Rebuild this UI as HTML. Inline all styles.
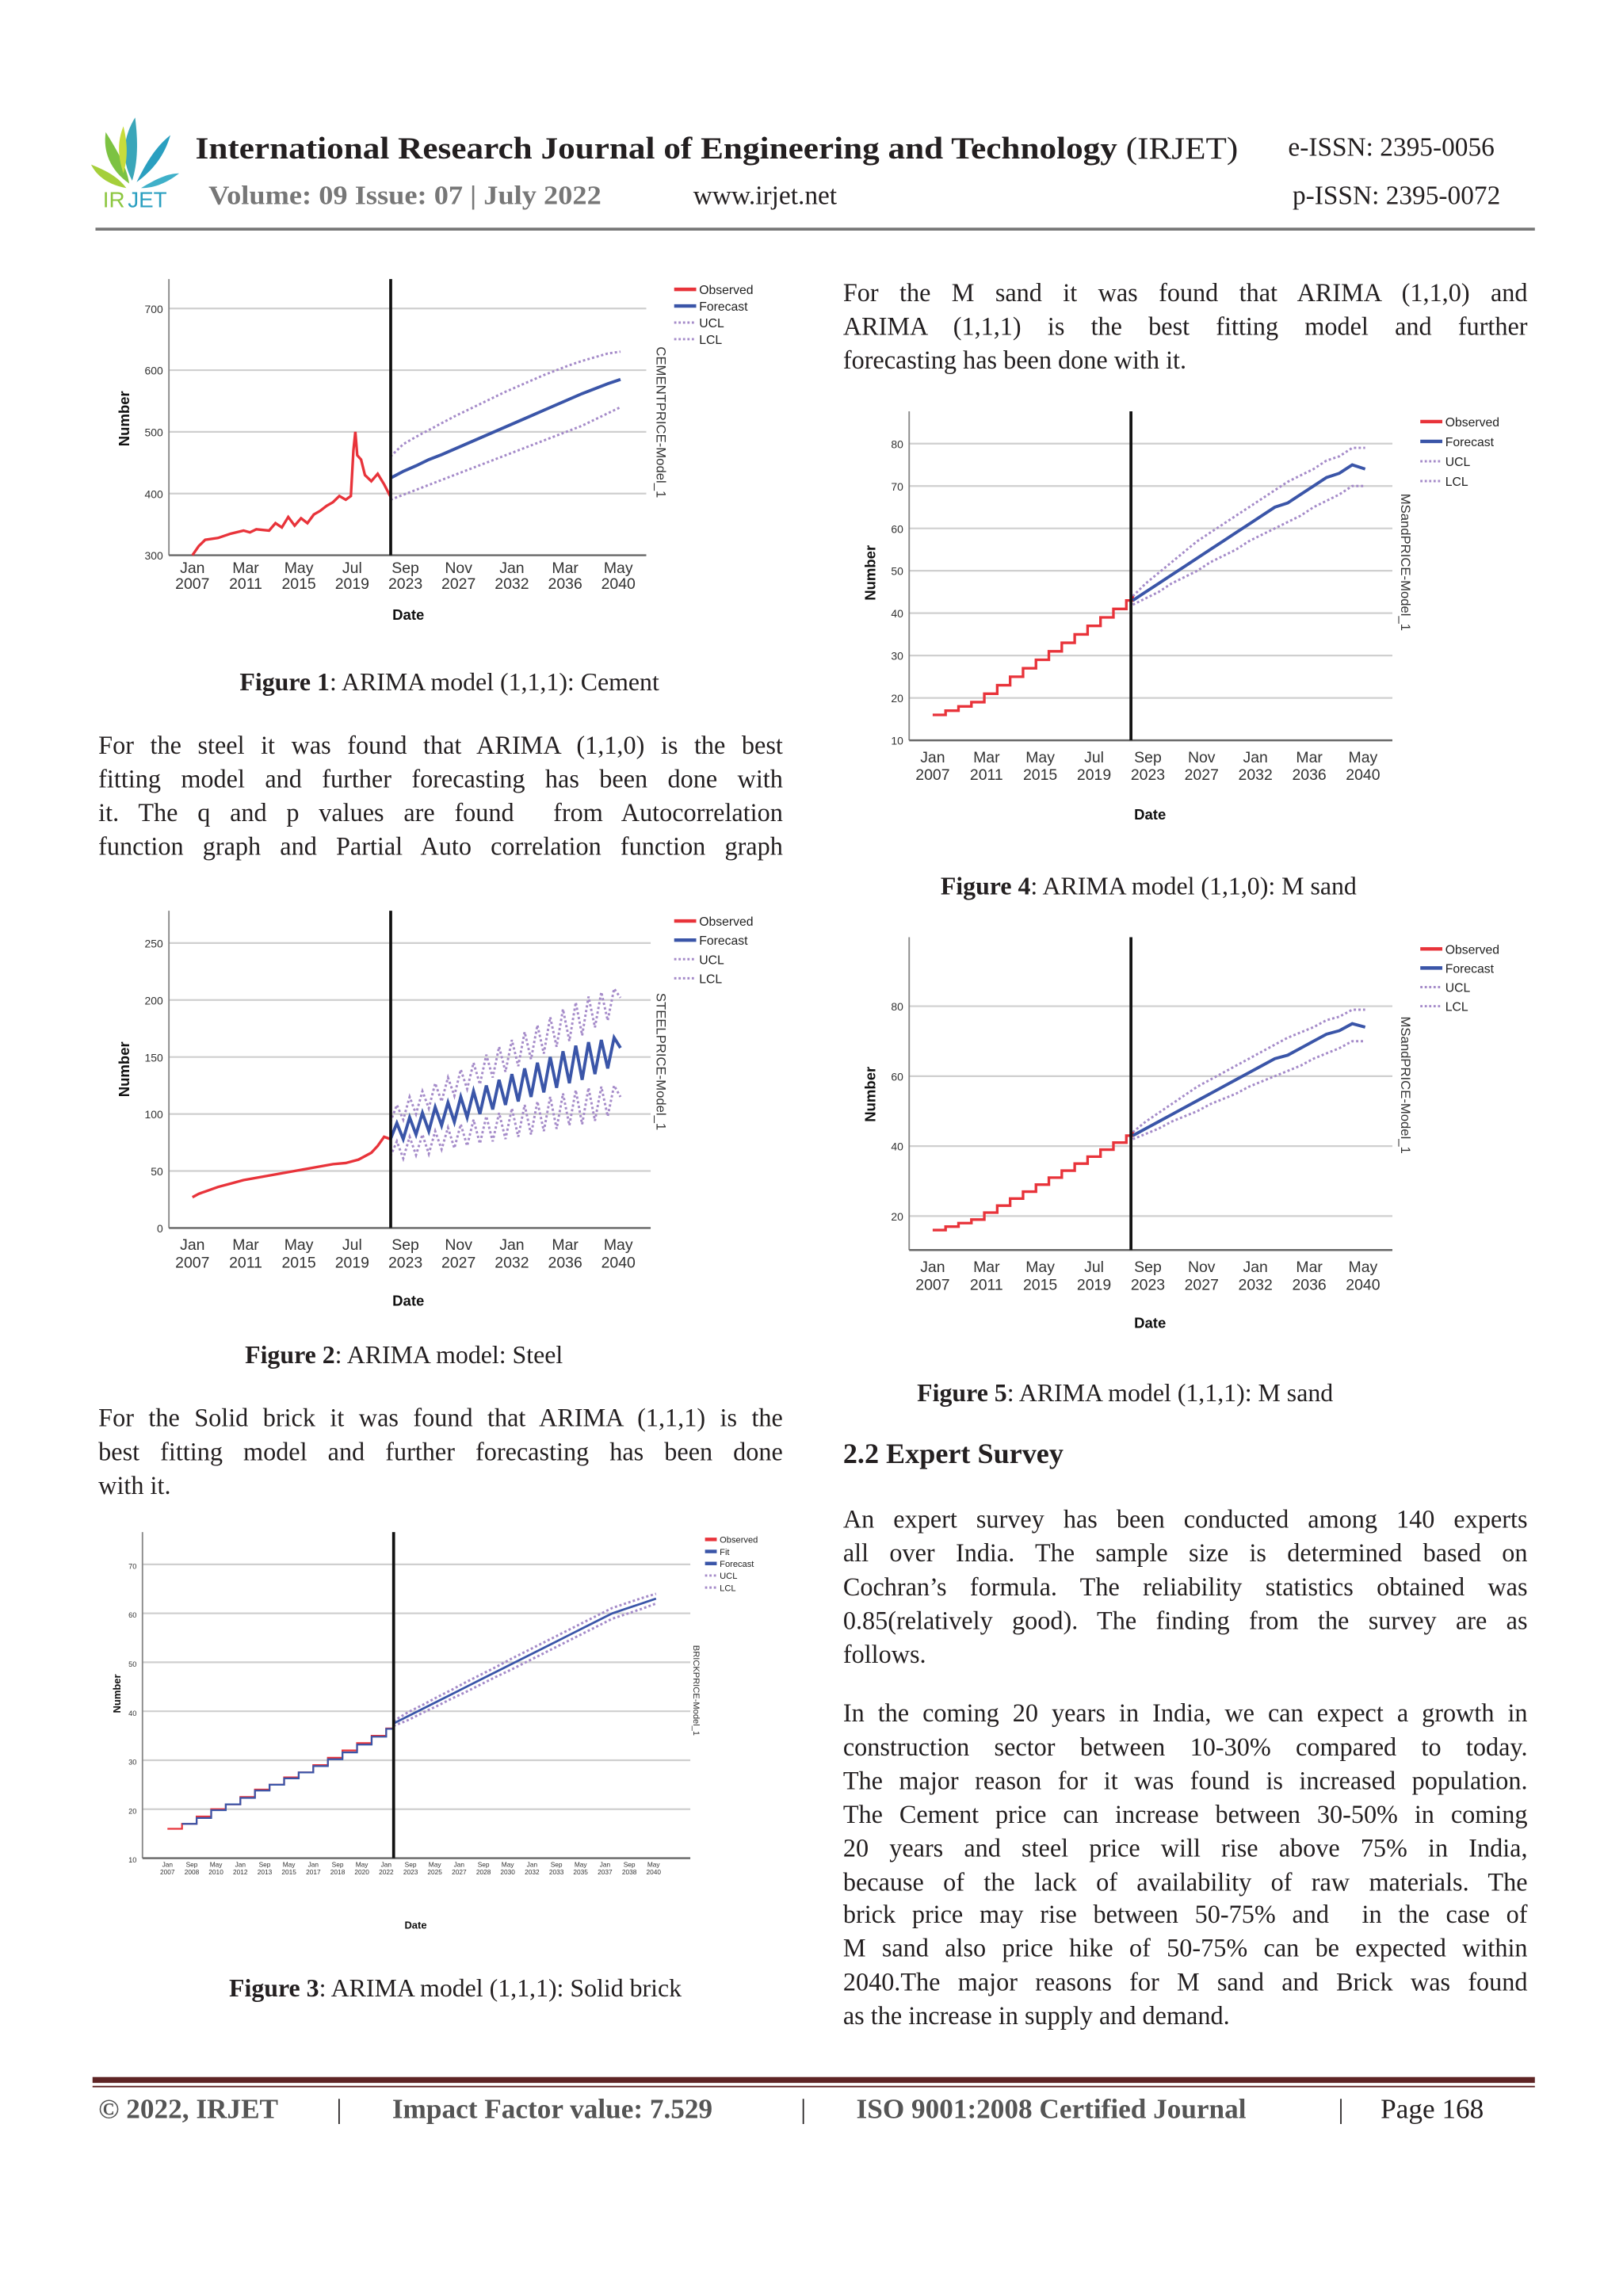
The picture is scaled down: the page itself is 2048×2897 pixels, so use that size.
<!DOCTYPE html>
<html><head><meta charset="utf-8">
<style>
html,body{margin:0;padding:0;background:#fff;}
body{width:2048px;height:2897px;overflow:hidden;position:relative;}
#page{position:absolute;left:0;top:0;width:1105px;height:1563px;transform:scale(1.85339);transform-origin:0 0;font-family:"Liberation Serif",serif;color:#231f20;}
.abs{position:absolute;white-space:nowrap;}
.para{position:absolute;font-size:17.4px;line-height:22.9px;}
.para div{text-align:justify;text-align-last:justify;white-space:nowrap;}
.para div.last{text-align-last:left;}
.cap{position:absolute;font-size:17.2px;white-space:nowrap;transform:translateX(-50%);}
.foot{position:absolute;top:1426px;font-size:19px;font-weight:bold;color:#555;white-space:nowrap;}
svg text{font-family:"Liberation Sans Narrow","Liberation Sans",sans-serif;}
</style></head>
<body>
<div id="page">
  <svg class="abs" style="left:60px;top:78px" width="66" height="70">
    <path d="M30 45 C22 30 24 15 32 2 C34 18 34 32 30 45Z" fill="#3aa6b9"/>
    <path d="M28 47 C15 38 10 25 12 12 C20 25 26 35 28 47Z" fill="#7cc242"/>
    <path d="M33 46 C40 32 46 22 56 14 C52 28 44 38 33 46Z" fill="#2a9fc0"/>
    <path d="M26 50 C14 48 6 42 2 34 C12 38 20 42 26 50Z" fill="#a5cf3a"/>
    <path d="M36 50 C46 44 54 40 62 40 C54 46 46 50 36 50Z" fill="#3fb0c9"/>
    <path d="M24 40 C20 28 20 18 24 8 C27 20 27 30 24 40Z" fill="#c8dc3c"/>
    <text x="10" y="63" font-family="Liberation Serif" font-size="15" fill="#8cc63f">IR</text>
    <text x="27" y="63" font-family="Liberation Serif" font-size="15" fill="#2a9fc0">JET</text>
  </svg>
  <div class="abs" style="left:133px;top:89px;font-size:21px;transform:scaleX(1.11);transform-origin:0 0;"><b>International Research Journal of Engineering and Technology</b> (IRJET)</div>
  <div class="abs" style="left:877px;top:90px;font-size:18px;">e-ISSN: 2395-0056</div>
  <div class="abs" style="left:142px;top:123px;font-size:18px;font-weight:bold;color:#777;transform:scaleX(1.09);transform-origin:0 0;">Volume: 09 Issue: 07 | July 2022</div>
  <div class="abs" style="left:472px;top:123px;font-size:18px;">www.irjet.net</div>
  <div class="abs" style="left:880px;top:123px;font-size:18px;">p-ISSN: 2395-0072</div>
  <div class="abs" style="left:65px;top:155px;width:980px;height:2px;background:#777;"></div>

  <svg id="charts" class="abs" style="left:0;top:0" width="1105" height="1563"></svg>

  <div class="cap" style="left:306px;top:455px"><b>Figure 1</b>: ARIMA model (1,1,1): Cement</div>
  <div class="para" style="left:67px;top:496px;width:466px">
    <div>For the steel it was found that ARIMA (1,1,0) is the best</div>
    <div>fitting model and further forecasting has been done with</div>
    <div>it. The q and p values are found &nbsp;from Autocorrelation</div>
    <div>function graph and Partial Auto correlation function graph</div>
  </div>
  <div class="cap" style="left:275px;top:913px"><b>Figure 2</b>: ARIMA model: Steel</div>
  <div class="para" style="left:67px;top:954px;width:466px">
    <div>For the Solid brick it was found that ARIMA (1,1,1) is the</div>
    <div>best fitting model and further forecasting has been done</div>
    <div class="last">with it.</div>
  </div>
  <div class="cap" style="left:310px;top:1344px"><b>Figure 3</b>: ARIMA model (1,1,1): Solid brick</div>

  <div class="para" style="left:574px;top:188px;width:466px">
    <div>For the M sand it was found that ARIMA (1,1,0) and</div>
    <div>ARIMA (1,1,1) is the best fitting model and further</div>
    <div class="last">forecasting has been done with it.</div>
  </div>
  <div class="cap" style="left:782px;top:594px"><b>Figure 4</b>: ARIMA model (1,1,0): M sand</div>
  <div class="cap" style="left:766px;top:939px"><b>Figure 5</b>: ARIMA model (1,1,1): M sand</div>
  <div class="abs" style="left:574px;top:980px;font-size:19.5px;font-weight:bold;">2.2 Expert Survey</div>
  <div class="para" style="left:574px;top:1023px;width:466px">
    <div>An expert survey has been conducted among 140 experts</div>
    <div>all over India. The sample size is determined based on</div>
    <div>Cochran’s formula. The reliability statistics obtained was</div>
    <div>0.85(relatively good). The finding from the survey are as</div>
    <div class="last">follows.</div>
  </div>
  <div class="para" style="left:574px;top:1155px;width:466px">
    <div>In the coming 20 years in India, we can expect a growth in</div>
    <div>construction sector between 10-30% compared to today.</div>
    <div>The major reason for it was found is increased population.</div>
    <div>The Cement price can increase between 30-50% in coming</div>
    <div>20 years and steel price will rise above 75% in India,</div>
    <div>because of the lack of availability of raw materials. The</div>
    <div>brick price may rise between 50-75% and &nbsp;in the case of</div>
    <div>M sand also price hike of 50-75% can be expected within</div>
    <div>2040.The major reasons for M sand and Brick was found</div>
    <div class="last">as the increase in supply and demand.</div>
  </div>

  <div class="abs" style="left:63px;top:1414px;width:982px;height:4px;background:#5e2424;"></div>
  <div class="abs" style="left:63px;top:1420px;width:982px;height:1.3px;background:#5e2424;"></div>
  <div class="foot" style="left:67px">© 2022, IRJET</div>
  <div class="foot" style="left:229px;color:#231f20;font-weight:normal">|</div>
  <div class="foot" style="left:267px">Impact Factor value: 7.529</div>
  <div class="foot" style="left:545px;color:#231f20;font-weight:normal">|</div>
  <div class="foot" style="left:583px">ISO 9001:2008 Certified Journal</div>
  <div class="foot" style="left:911px;color:#231f20;font-weight:normal">|</div>
  <div class="foot" style="left:940px;color:#231f20;font-weight:normal">Page 168</div>
</div>

<script>
// ---------- data ----------
const mainTickMonths = ["Jan","Mar","May","Jul","Sep","Nov","Jan","Mar","May"];
const mainTickYears = [2007,2011,2015,2019,2023,2027,2032,2036,2040];
const mainTickDates = [2007,2011.17,2015.33,2019.5,2023.67,2027.83,2032,2036.17,2040.33];
const brickTickMonths = ["Jan","Sep","May","Jan","Sep","May","Jan","Sep","May","Jan","Sep","May","Jan","Sep","May","Jan","Sep","May","Jan","Sep","May"];
const brickTickYears = [2007,2008,2010,2012,2013,2015,2017,2018,2020,2022,2023,2025,2027,2028,2030,2032,2033,2035,2037,2038,2040];
const brickTickDates = [2007,2008.67,2010.33,2012,2013.67,2015.33,2017,2018.67,2020.33,2022,2023.67,2025.33,2027,2028.67,2030.33,2032,2033.67,2035.33,2037,2038.67,2040.33];

// Cement
const cementYTicks = [300,400,500,600,700];
const cementObsX = [2007,2007.5,2008,2009,2010,2011,2011.5,2012,2013,2013.5,2014,2014.5,2015,2015.5,2016,2016.5,2017,2017.5,2018,2018.5,2019,2019.4,2019.6,2019.75,2019.9,2020.2,2020.5,2021,2021.5,2022,2022.5];
const cementObsY = [300,315,325,328,335,340,337,342,340,352,345,362,348,360,352,366,372,380,386,396,390,396,470,500,462,455,430,420,432,415,395];
const fcYears = [2022.5,2023.5,2024.5,2025.5,2026.5,2027.5,2028.5,2029.5,2030.5,2031.5,2032.5,2033.5,2034.5,2035.5,2036.5,2037.5,2038.5,2039.5,2040.5];
const cementFc = [425,436,445,455,463,472,481,490,499,508,517,526,535,544,553,562,570,578,585];
const cementUcl = [460,480,492,503,514,525,535,545,555,565,574,583,592,600,608,615,621,627,630];
const cementLcl = [390,398,406,414,422,430,438,446,454,462,470,478,486,494,502,510,520,530,540];

// Steel
const steelYTicks = [0,50,100,150,200,250];
const steelObsX = [2007,2007.5,2008,2009,2010,2011,2012,2013,2014,2015,2016,2017,2018,2019,2020,2021,2021.5,2022,2022.5];
const steelObsY = [27,30,32,36,39,42,44,46,48,50,52,54,56,57,60,66,72,80,78];
const steelFcStart = 2022.5;
const steelFcStep = 0.5;
const steelFc = [78,92,78,97,82,101,85,106,90,110,93,115,97,120,100,125,104,130,108,135,111,140,115,145,119,150,123,155,127,160,130,163,135,165,140,167,158];
const steelUcl = [93,108,95,115,100,120,105,127,111,132,116,139,122,145,126,152,132,159,137,165,142,172,148,178,153,185,159,192,164,198,169,203,176,207,182,210,202];
const steelLcl = [63,76,61,80,64,82,65,85,69,88,70,91,72,95,74,98,76,101,78,105,80,108,82,111,85,115,87,118,90,121,91,123,94,124,98,125,115];

// Brick
const brickYTicks = [10,20,30,40,50,60,70];
const brickObsX = [2007,2008,2009,2010,2011,2012,2013,2014,2015,2016,2017,2018,2019,2020,2021,2022,2022.5];
const brickObsY = [16,17,18.5,20,21,22.5,24,25,26.5,27.5,29,30.5,32,33.5,35,36.5,36.5];
const brickFitX = [2008,2009,2010,2011,2012,2013,2014,2015,2016,2017,2018,2019,2020,2021,2022,2022.5];
const brickFitY = [17,18.2,19.8,21,22.3,23.8,25,26.3,27.5,28.8,30.2,31.6,33.2,34.8,36.4,37.3];
const brickFc = [37.5,39,40.5,42,43.5,45,46.5,48,49.5,51,52.5,54,55.5,57,58.5,60,61,62,63];
const brickUcl = [38,39.8,41.3,42.9,44.4,46,47.5,49,50.6,52.1,53.6,55.1,56.6,58.1,59.6,61.1,62.1,63.1,64];
const brickLcl = [37,38.2,39.7,41.1,42.6,44,45.5,47,48.4,49.9,51.4,52.9,54.4,55.9,57.4,58.9,59.9,60.9,62];

// M sand (figures 4 and 5)
const msand4YTicks = [10,20,30,40,50,60,70,80];
const msand5YTicks = [20,40,60,80];
const msandObsX = [2007,2008,2009,2010,2011,2012,2013,2014,2015,2016,2017,2018,2019,2020,2021,2022,2022.5];
const msandObsY = [16,17,18,19,21,23,25,27,29,31,33,35,37,39,41,43,44];
const msandFc = [43,45,47,49,51,53,55,57,59,61,63,65,66,68,70,72,73,75,74];
const msandUcl = [44,47,49.5,52,54.5,57,59,61,63,65,67,69,71,72.5,74,76,77,79,79];
const msandLcl = [42,43.5,45,47,48.5,50,52,53.5,55,57,58.5,60,61.5,63,65,66.5,68,70,70];

// ---------- drawing ----------
const NS = "http://www.w3.org/2000/svg";
const root = document.getElementById("charts");
function mk(tag, attrs, parent){
  const e = document.createElementNS(NS, tag);
  for (const k in attrs) e.setAttribute(k, attrs[k]);
  (parent||root).appendChild(e);
  return e;
}
function pathFrom(xs, ys, sx, sy, step){
  let d = "";
  for (let i=0;i<xs.length;i++){
    const X = sx(xs[i]), Y = sy(ys[i]);
    if (i===0) d += "M"+X+" "+Y;
    else if (step) d += " H"+X+" V"+Y;
    else d += " L"+X+" "+Y;
  }
  return d;
}
function drawChart(c){
  const g = mk("g", {});
  
  
  const sx = t => c.x0 + (t-2007)*(c.x1-c.x0)/(2040.333-2007);
  const sy = v => c.yb - (v-c.vmin)*(c.yb-c.yt)/(c.vmax-c.vmin);
  c.yTicks.forEach(v=>{
    if (v !== c.vmin){
      const l = mk("line",{x1:c.axisX,x2:c.right,y1:sy(v),y2:sy(v),stroke:"#cfcfcf","stroke-width":1.2},g);
      
      
    }
    const t = mk("text",{x:c.axisX-4,y:sy(v)+3,"font-size":c.tickFs,"text-anchor":"end",fill:"#333"},g);
    t.textContent = v;
    
    
  });
  const ya = mk("line",{x1:c.axisX,x2:c.axisX,y1:c.top,y2:c.yb,stroke:"#888","stroke-width":1},g);
  
  
  const xa = mk("line",{x1:c.axisX,x2:c.right,y1:c.yb,y2:c.yb,stroke:"#666","stroke-width":1.3},g);
  
  
  c.xDates.forEach((d,i)=>{
    const t1 = mk("text",{x:sx(d),y:c.yb+c.xl1,"font-size":c.xFs,"text-anchor":"middle",fill:"#333"},g);
    t1.textContent = c.xMonths[i];
    
    
    const t2 = mk("text",{x:sx(d),y:c.yb+c.xl2,"font-size":c.xFs,"text-anchor":"middle",fill:"#333"},g);
    t2.textContent = c.xYears[i];
    
    
  });
  const fcX = c.fcX;
  const u = mk("path",{d:pathFrom(fcX,c.ucl,sx,sy,false),fill:"none",stroke:"#a58bc9","stroke-width":1.6,"stroke-dasharray":"1.6 1.6"},g);
  
  
  const l = mk("path",{d:pathFrom(fcX,c.lcl,sx,sy,false),fill:"none",stroke:"#a58bc9","stroke-width":1.6,"stroke-dasharray":"1.6 1.6"},g);
  
  
  const o = mk("path",{d:pathFrom(c.obsX,c.obsY,sx,sy,c.step),fill:"none",stroke:"#e8333a","stroke-width":c.lw},g);
  
  
  if (c.fitX){
    const f = mk("path",{d:pathFrom(c.fitX,c.fitY,sx,sy,true),fill:"none",stroke:"#3a55a8","stroke-width":c.lw},g);
    
    
  }
  const fc = mk("path",{d:pathFrom(fcX,c.fc,sx,sy,false),fill:"none",stroke:"#3a55a8","stroke-width":c.lw+0.3},g);
  
  
  const v = mk("line",{x1:c.cutX,x2:c.cutX,y1:c.top,y2:c.yb,stroke:"#111","stroke-width":2},g);
  
  
  const yt = mk("text",{x:0,y:0,"font-size":c.titleFs,"font-weight":"bold","text-anchor":"middle",fill:"#111",transform:"translate("+c.numX+","+c.numY+") rotate(-90)","font-family":"Liberation Sans"},g);
  yt.textContent = "Number";
  
  
  const xt = mk("text",{x:c.dateX,y:c.dateY,"font-size":c.titleFs,"font-weight":"bold","text-anchor":"middle",fill:"#111"},g);
  xt.textContent = "Date";
  
  
  const mt = mk("text",{x:0,y:0,"font-size":c.modelFs,fill:"#333","font-family":"Liberation Sans",transform:"translate("+c.modelX+","+c.modelY+") rotate(90)"},g);
  mt.textContent = c.model;
  
  
  c.legend.forEach((it,i)=>{
    const yy = c.legY + i*c.legDy;
    const ln = mk("line",{x1:c.legX,x2:c.legX+c.legW,y1:yy,y2:yy,stroke:it[1],"stroke-width":it[2]?1.6:2.4,"stroke-dasharray":it[2]?"1.5 1.5":"none"},g);
    
    
    const tx = mk("text",{x:c.legX+c.legW+2,y:yy+c.legFs*0.38,"font-size":c.legFs,fill:"#222"},g);
    tx.textContent = it[0];
    
    
  });
}
const std = [["Observed","#e8333a",false],["Forecast","#3a55a8",false],["UCL","#a58bc9",true],["LCL","#a58bc9",true]];
const steelFcX = steelFc.map((_,i)=>steelFcStart+i*steelFcStep);

drawChart({name:"cement-chart",x0:131,x1:421,axisX:115,right:440,top:190,yb:378,vmin:300,vmax:700,yt:210,
  yTicks:cementYTicks,tickFs:7.5,xDates:mainTickDates,xMonths:mainTickMonths,xYears:mainTickYears,xFs:10.5,xl1:12,xl2:23,
  obsX:cementObsX,obsY:cementObsY,step:false,fcX:fcYears,fc:cementFc,ucl:cementUcl,lcl:cementLcl,lw:1.8,cutX:266,
  numX:88,numY:285,dateX:278,dateY:422,titleFs:10,modelX:447,modelY:236,modelFs:9,model:"CEMENTPRICE-Model_1",
  legend:std,legX:459,legY:197,legDy:11.3,legW:15,legFs:8.5});
drawChart({name:"steel-chart",x0:131,x1:421,axisX:115,right:443,top:620,yb:836,vmin:0,vmax:250,yt:642,
  yTicks:steelYTicks,tickFs:7.5,xDates:mainTickDates,xMonths:mainTickMonths,xYears:mainTickYears,xFs:10.5,xl1:15,xl2:27,
  obsX:steelObsX,obsY:steelObsY,step:false,fcX:steelFcX,fc:steelFc,ucl:steelUcl,lcl:steelLcl,lw:1.8,cutX:266,
  numX:88,numY:728,dateX:278,dateY:889,titleFs:10,modelX:447,modelY:676,modelFs:9,model:"STEELPRICE-Model_1",
  legend:std,legX:459,legY:627,legDy:13,legW:15,legFs:8.5});
drawChart({name:"brick-chart",x0:114,x1:445,axisX:97,right:470,top:1043,yb:1265,vmin:10,vmax:70,yt:1065,
  yTicks:brickYTicks,tickFs:5,xDates:brickTickDates,xMonths:brickTickMonths,xYears:brickTickYears,xFs:4.5,xl1:6,xl2:11,
  obsX:brickObsX,obsY:brickObsY,step:true,fitX:brickFitX,fitY:brickFitY,fcX:fcYears,fc:brickFc,ucl:brickUcl,lcl:brickLcl,lw:1.2,cutX:268,
  numX:82,numY:1153,dateX:283,dateY:1313,titleFs:7,modelX:472,modelY:1120,modelFs:6,model:"BRICKPRICE-Model_1",
  legend:[["Observed","#e8333a",false],["Fit","#3a55a8",false],["Forecast","#3a55a8",false],["UCL","#a58bc9",true],["LCL","#a58bc9",true]],
  legX:480,legY:1048,legDy:8.2,legW:8,legFs:6});
drawChart({name:"msand-chart-fig4",x0:635,x1:928,axisX:619,right:948,top:280,yb:504,vmin:10,vmax:80,yt:302,
  yTicks:msand4YTicks,tickFs:7.5,xDates:mainTickDates,xMonths:mainTickMonths,xYears:mainTickYears,xFs:10.5,xl1:15,xl2:27,
  obsX:msandObsX,obsY:msandObsY,step:true,fcX:fcYears,fc:msandFc,ucl:msandUcl,lcl:msandLcl,lw:1.8,cutX:770,
  numX:596,numY:390,dateX:783,dateY:558,titleFs:10,modelX:954,modelY:336,modelFs:9,model:"MSandPRICE-Model_1",
  legend:std,legX:967,legY:287,legDy:13.5,legW:15,legFs:8.5});
drawChart({name:"msand-chart-fig5",x0:635,x1:928,axisX:619,right:948,top:638,yb:851,vmin:10.3,vmax:80,yt:685,
  yTicks:msand5YTicks,tickFs:7.5,xDates:mainTickDates,xMonths:mainTickMonths,xYears:mainTickYears,xFs:10.5,xl1:15,xl2:27,
  obsX:msandObsX,obsY:msandObsY,step:true,fcX:fcYears,fc:msandFc,ucl:msandUcl,lcl:msandLcl,lw:1.8,cutX:770,
  numX:596,numY:745,dateX:783,dateY:904,titleFs:10,modelX:954,modelY:692,modelFs:9,model:"MSandPRICE-Model_1",
  legend:std,legX:967,legY:646,legDy:13,legW:15,legFs:8.5});
</script>
</body></html>
